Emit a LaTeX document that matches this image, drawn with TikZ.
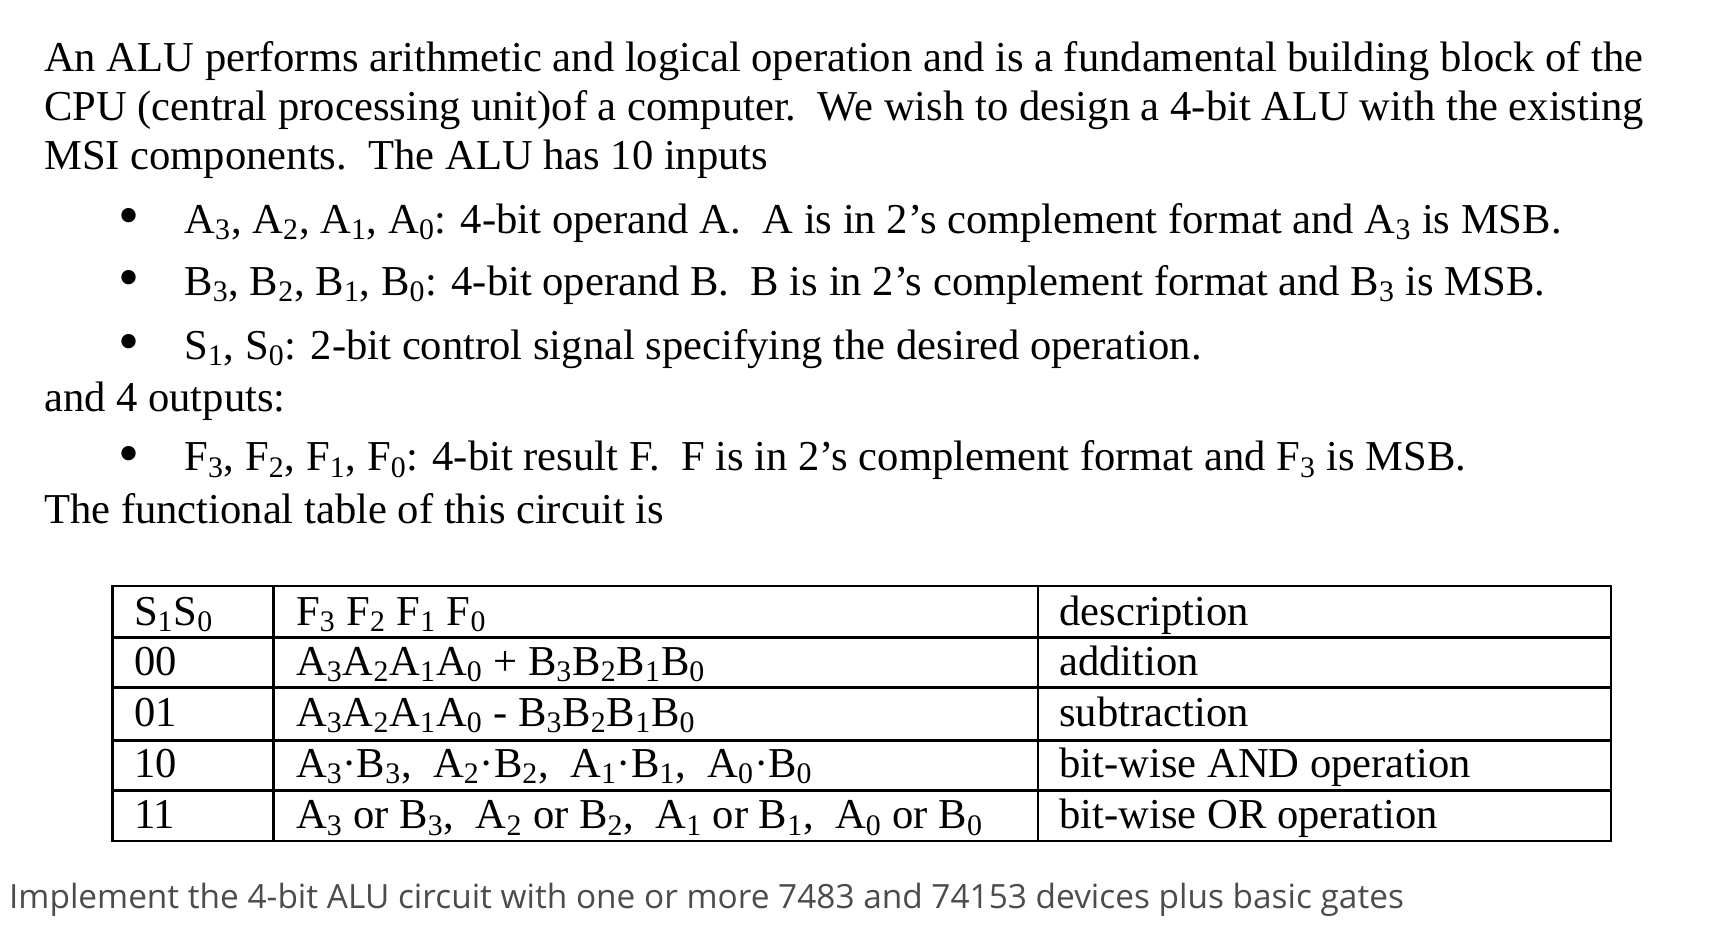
\documentclass[tikz,border=0pt]{standalone}
\usepackage{fontspec}
\setmainfont{Liberation Serif}
\newfontfamily\opensans{Open Sans}
\newcommand{\sB}[1]{\textsubscript{#1}}
\begin{document}
\begin{tikzpicture}[x=0.5476pt,y=-0.5476pt,
  txt/.style={anchor=base west,inner sep=0pt,font=\fontsize{21.3}{24}\selectfont},
  cell/.style={anchor=base west,inner sep=0pt,font=\fontsize{21.3}{24}\selectfont},
  bul/.style={anchor=base,inner sep=0pt,font=\fontsize{30}{30}\selectfont},
  grid/.style={line width=1.3pt}]
\useasboundingbox (0,0) rectangle (1567,852);
\node[txt] (l1) at (40,65) {An ALU performs arithmetic and logical operation and is a fundamental building block of the};
\node[txt] (l2) at (40,110) {CPU (central processing unit)of a computer.\ \ We wish to design a 4-bit ALU with the existing};
\node[txt] (l3) at (40,155) {MSI components.\ \ The ALU has 10 inputs};
\node[bul] (b1) at (118,215) {•};
\node[txt] (t1) at (168,213) {A\sB3, A\sB2, A\sB1, A\sB0: 4-bit operand A.\ \ A is in 2’s complement format and A\sB3 is MSB.};
\node[bul] (b2) at (118,272) {•};
\node[txt] (t2) at (168,270) {B\sB3, B\sB2, B\sB1, B\sB0: 4-bit operand B.\ \ B is in 2’s complement format and B\sB3 is MSB.};
\node[bul] (b3) at (118,330) {•};
\node[txt] (t3) at (168,328) {S\sB1, S\sB0: 2-bit control signal specifying the desired operation.};
\node[txt] (l4) at (40,376) {and 4 outputs:};
\node[bul] (b4) at (118,432) {•};
\node[txt] (t4) at (168,430) {F\sB3, F\sB2, F\sB1, F\sB0: 4-bit result F.\ \ F is in 2’s complement format and F\sB3 is MSB.};
\node[txt] (l5) at (40,478) {The functional table of this circuit is};
% table
\draw[grid] (103,535) rectangle (1471,768);
\foreach \y in {582,628,676,722} \draw[grid] (103,\y) -- (1471,\y);
\foreach \x in {250,948} \draw[grid] (\x,535) -- (\x,768);
\node[cell] (h1) at (122,571) {S\sB1S\sB0};
\node[cell] (h2) at (270,571) {F\sB3 F\sB2 F\sB1 F\sB0};
\node[cell] (h3) at (967,571) {description};
\node[cell] (r1a) at (122,617) {00};
\node[cell] (r1b) at (270,617) {A\sB3A\sB2A\sB1A\sB0 + B\sB3B\sB2B\sB1B\sB0};
\node[cell] (r1c) at (967,617) {addition};
\node[cell] (r2a) at (122,663) {01};
\node[cell] (r2b) at (270,663) {A\sB3A\sB2A\sB1A\sB0 - B\sB3B\sB2B\sB1B\sB0};
\node[cell] (r2c) at (967,663) {subtraction};
\node[cell] (r3a) at (122,710) {10};
\node[cell] (r3b) at (270,710) {A\sB3·B\sB3,\ \ A\sB2·B\sB2,\ \ A\sB1·B\sB1,\ \ A\sB0·B\sB0};
\node[cell] (r3c) at (967,710) {bit-wise AND operation};
\node[cell] (r4a) at (122,757) {11};
\node[cell] (r4b) at (270,757) {A\sB3 or B\sB3,\ \ A\sB2 or B\sB2,\ \ A\sB1 or B\sB1,\ \ A\sB0 or B\sB0};
\node[cell] (r4c) at (967,757) {bit-wise OR operation};
\node[anchor=base west,inner sep=0pt,text=black!70,font=\opensans\fontsize{16.7}{19}\selectfont] (imp) at (8,830) {Implement the 4-bit ALU circuit with one or more 7483 and 74153 devices plus basic gates};
\end{tikzpicture}
\end{document}
